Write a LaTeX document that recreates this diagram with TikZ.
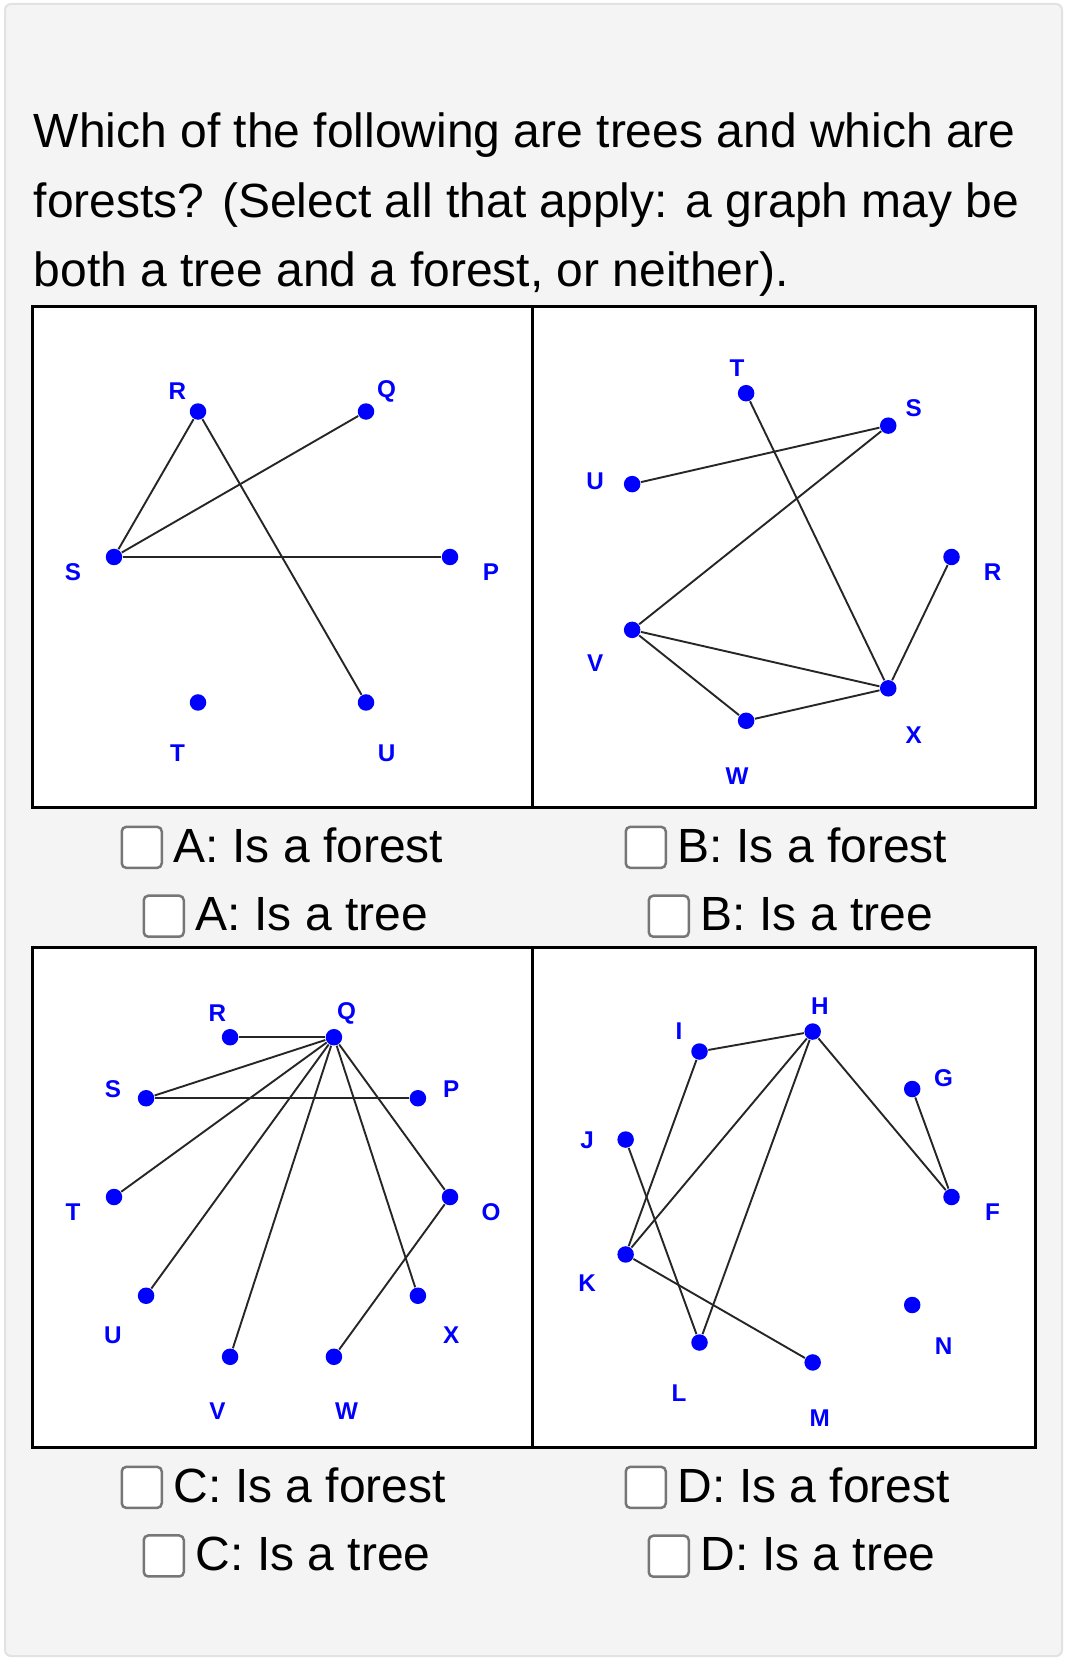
\documentclass[tikz,border=0pt]{standalone}
\usepackage{fontspec}
\setmainfont{Liberation Sans}
\usetikzlibrary{positioning}

\definecolor{cardbg}{HTML}{F4F4F4}
\definecolor{cardline}{HTML}{E2E2E2}
\definecolor{boxline}{HTML}{767676}
\definecolor{linkclr}{HTML}{262626}

\begin{document}
\begin{tikzpicture}[
  x=0.1mm, y=-0.1mm,
  qtext/.style={font=\fontsize{13.66}{16}\selectfont, inner sep=0pt, anchor=base west},
  panel/.style={draw=black, line width=0.3mm, fill=white},
  vdot/.style={circle, fill=blue, inner sep=0pt, minimum size=1.65mm},
  vlbl/.style={text=blue, font=\fontsize{6.9}{8}\selectfont\bfseries, inner sep=0pt},
  link/.style={draw=linkclr, line width=0.19mm},
  chk/.style={draw=boxline, line width=0.25mm, fill=white, rounded corners=0.45mm,
              minimum width=4mm, minimum height=4.1mm, inner sep=0pt},
]

% ── Parameters (unit = 1 px of the screenshot) ───────────────────────────────
\def\rdot{168}        % radius of the vertex ring
\def\rlbl{209}        % radius of the label ring
\def\lblshift{-1.5mm} % label ring sits 15 px lower

\useasboundingbox (0,0) rectangle (1080,1668);
\fill[white] (0,0) rectangle (1080,1668);

% ── Card ──────────────────────────────────────────────────────────────────────
\draw[fill=cardbg, draw=cardline, line width=0.2mm, rounded corners=0.6mm]
  (5,4) rectangle (1062,1656);

% ── Question ──────────────────────────────────────────────────────────────────
\node[qtext] (ttl1) at (33,148) {Which of the following are trees and which are};
\node[qtext] (ttl2) at (33,218) {forests? (Select all that apply: a graph may be};
\node[qtext] (ttl3) at (33,287) {both a tree and a forest, or neither).};

% ── Panels ────────────────────────────────────────────────────────────────────
\draw[panel] (32,307)  rectangle (532,807);
\draw[panel] (532,307) rectangle (1035,807);
\draw[panel] (32,947)  rectangle (532,1447);
\draw[panel] (532,947) rectangle (1035,1447);

\coordinate (A-c) at (282,557);
\coordinate (B-c) at (783.5,557);
\coordinate (C-c) at (282,1197);
\coordinate (D-c) at (783.5,1197);

% ── Graph A (hexagon) ─────────────────────────────────────────────────────────
\foreach \v/\ang in {P/0, U/60, T/120, S/180, R/240, Q/300} {
  \node[vdot] (A-\v) at ([shift={(\ang:\rdot)}]A-c) {};
  \node[vlbl] (A-\v-lbl) at ([shift={(\ang:\rlbl)}, yshift=\lblshift]A-c) {\v};
}
\foreach \a/\b in {S/R, S/Q, S/P, R/U}
  \draw[link] (A-\a) -- (A-\b);

% ── Graph B (heptagon) ────────────────────────────────────────────────────────
\foreach \v/\ang in {R/0, X/51.43, W/102.86, V/154.29, U/205.71, T/257.14, S/308.57} {
  \node[vdot] (B-\v) at ([shift={(\ang:\rdot)}]B-c) {};
  \node[vlbl] (B-\v-lbl) at ([shift={(\ang:\rlbl)}, yshift=\lblshift]B-c) {\v};
}
\foreach \a/\b in {U/S, T/X, S/V, V/X, V/W, W/X, X/R}
  \draw[link] (B-\a) -- (B-\b);

% ── Graph C (decagon) ─────────────────────────────────────────────────────────
\foreach \v/\ang in {O/0, X/36, W/72, V/108, U/144, T/180, S/216, R/252, Q/288, P/324} {
  \node[vdot] (C-\v) at ([shift={(\ang:\rdot)}]C-c) {};
  \node[vlbl] (C-\v-lbl) at ([shift={(\ang:\rlbl)}, yshift=\lblshift]C-c) {\v};
}
\foreach \a/\b in {Q/R, Q/S, Q/T, Q/U, Q/V, Q/X, Q/O, S/P, O/W}
  \draw[link] (C-\a) -- (C-\b);

% ── Graph D (nonagon) ─────────────────────────────────────────────────────────
\foreach \v/\ang in {F/0, N/40, M/80, L/120, K/160, J/200, I/240, H/280, G/320} {
  \node[vdot] (D-\v) at ([shift={(\ang:\rdot)}]D-c) {};
  \node[vlbl] (D-\v-lbl) at ([shift={(\ang:\rlbl)}, yshift=\lblshift]D-c) {\v};
}
\foreach \a/\b in {I/H, H/K, H/L, H/F, G/F, J/L, K/M, I/K}
  \draw[link] (D-\a) -- (D-\b);

% ── Answer options ────────────────────────────────────────────────────────────
\node[qtext] (optA1) at (173,862)  {A: Is a forest};
\node[qtext] (optA2) at (195,930)  {A: Is a tree};
\node[qtext] (optB1) at (677,862)  {B: Is a forest};
\node[qtext] (optB2) at (700,930)  {B: Is a tree};
\node[qtext] (optC1) at (173,1502) {C: Is a forest};
\node[qtext] (optC2) at (195,1570) {C: Is a tree};
\node[qtext] (optD1) at (677,1502) {D: Is a forest};
\node[qtext] (optD2) at (700,1570) {D: Is a tree};

\foreach \o in {A1, A2, B1, B2, C1, C2, D1, D2}
  \node[chk, left=1mm of opt\o, yshift=-0.25mm] (box\o) {};

\end{tikzpicture}
\end{document}
